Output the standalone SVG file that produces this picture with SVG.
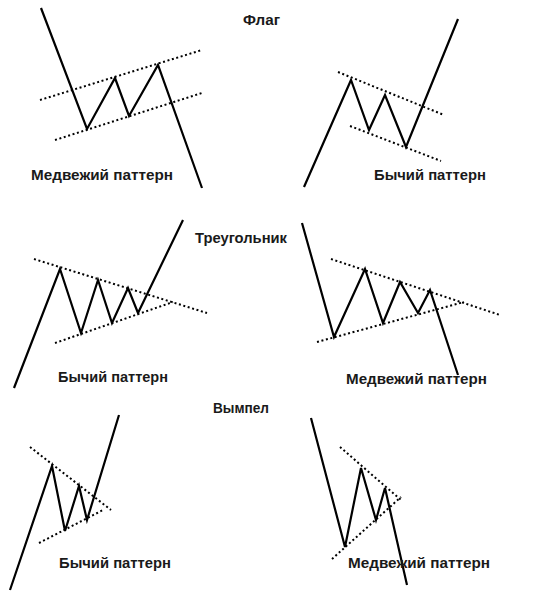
<svg xmlns="http://www.w3.org/2000/svg" width="545" height="600" viewBox="0 0 545 600">
<style>
.p{fill:none;stroke:#000;stroke-width:2.2;stroke-linejoin:miter}
.d{fill:none;stroke:#000;stroke-width:2;stroke-dasharray:2 2.6}
.t{font-family:"Liberation Sans",Arial,sans-serif;font-weight:bold;font-size:14.5px;fill:#1a1a1a}
</style>
<rect width="545" height="600" fill="#fff"/>
<g id="titles">
<text class="t" x="243" y="25" textLength="37" lengthAdjust="spacingAndGlyphs">Флаг</text>
<text class="t" x="195" y="243" textLength="92" lengthAdjust="spacingAndGlyphs">Треугольник</text>
<text class="t" x="213" y="413" textLength="56" lengthAdjust="spacingAndGlyphs">Вымпел</text>
</g>
<g id="flag-bear">
<line class="d" x1="40" y1="100" x2="202" y2="50"/>
<line class="d" x1="55" y1="140" x2="202" y2="93"/>
<polyline class="p" points="41,8 87,129 115,78 129,116 158,65 202,188"/>
<text class="t" x="31" y="180" textLength="142" lengthAdjust="spacingAndGlyphs">Медвежий паттерн</text>
</g>
<g id="flag-bull">
<line class="d" x1="338" y1="72" x2="444" y2="115"/>
<line class="d" x1="350" y1="126" x2="441" y2="161"/>
<polyline class="p" points="304,187 351,80 369,130 385,95 406,147 458,19"/>
<text class="t" x="374" y="180" textLength="112" lengthAdjust="spacingAndGlyphs">Бычий паттерн</text>
</g>
<g id="triangle-bull">
<line class="d" x1="34" y1="259" x2="207" y2="313"/>
<line class="d" x1="55" y1="343" x2="173" y2="302"/>
<polyline class="p" points="14,388 60,269 81,333 98,280 112,323 128,288 138,313 183,220"/>
<text class="t" x="58" y="382" textLength="110" lengthAdjust="spacingAndGlyphs">Бычий паттерн</text>
</g>
<g id="triangle-bear">
<line class="d" x1="331" y1="259" x2="500" y2="315"/>
<line class="d" x1="317" y1="342" x2="464" y2="302"/>
<polyline class="p" points="302,223 334,337 365,269 383,323 400,282 418,313 430,290 458,375"/>
<text class="t" x="346" y="384" textLength="141" lengthAdjust="spacingAndGlyphs">Медвежий паттерн</text>
</g>
<g id="pennant-bull">
<line class="d" x1="30" y1="447" x2="111" y2="510"/>
<line class="d" x1="39" y1="543" x2="103" y2="510"/>
<polyline class="p" points="10,590 52,466 65,531 79,486 87,520 119,415"/>
<text class="t" x="59" y="568" textLength="112" lengthAdjust="spacingAndGlyphs">Бычий паттерн</text>
</g>
<g id="pennant-bear">
<line class="d" x1="340" y1="447" x2="401" y2="500"/>
<line class="d" x1="332" y1="559" x2="401" y2="497"/>
<polyline class="p" points="311,418 345,547 361,468 376,520 385,488 407,585"/>
<text class="t" x="348" y="568" textLength="142" lengthAdjust="spacingAndGlyphs">Медвежий паттерн</text>
</g>
</svg>
